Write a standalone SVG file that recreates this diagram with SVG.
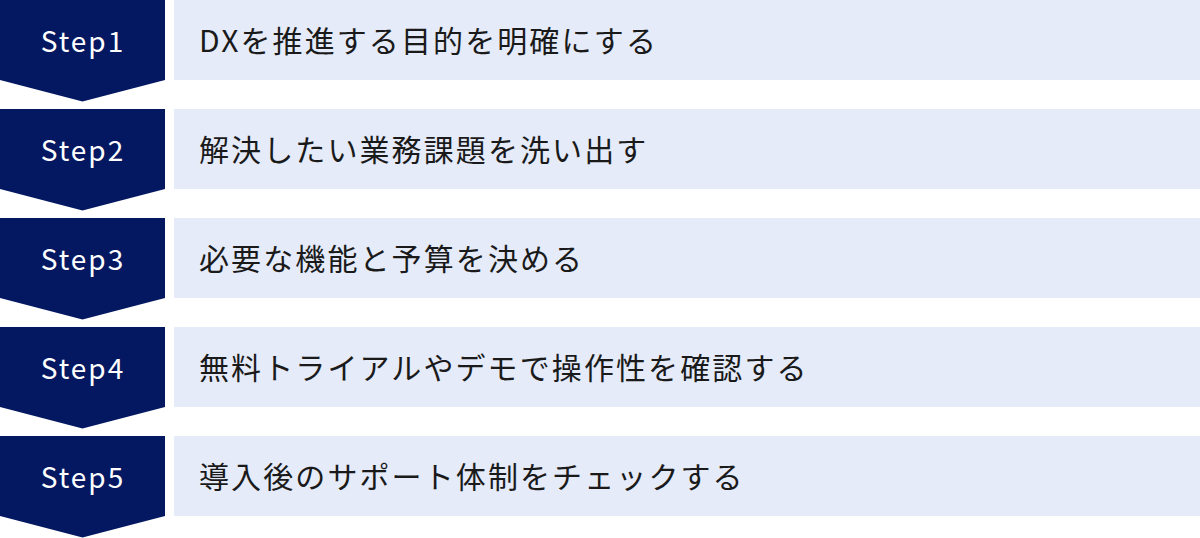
<svg xmlns="http://www.w3.org/2000/svg" width="1200" height="538" viewBox="0 0 1200 538">
  <style>
    .badge { fill: #041862; }
    .panel { fill: #E5EBF9; }
    .step { font-family: "Noto Sans CJK JP", "Noto Sans", sans-serif; font-size: 28px; font-weight: 400; fill: #ffffff; letter-spacing: 2px; text-anchor: middle; }
    .label { font-family: "Noto Sans CJK JP", "Noto Sans", sans-serif; font-size: 30px; fill: #1a1a1a; letter-spacing: 2.1px; }
  </style>
  <rect width="1200" height="538" fill="#ffffff"/>
  <g id="connectors"></g>
  <g id="step1">
    <path class="badge" d="M0,0 H165 V80 L82.5,101.5 L0,80 Z"/>
    <rect class="panel" x="174" y="0" width="1026" height="80"/>
    <text class="step" x="83" y="51.5">Step1</text>
    <text class="label" x="199" y="52">DXを推進する目的を明確にする</text>
  </g>
  <g id="step2">
    <path class="badge" d="M0,109 H165 V189 L82.5,210.5 L0,189 Z"/>
    <rect class="panel" x="174" y="109" width="1026" height="80"/>
    <text class="step" x="83" y="160.5">Step2</text>
    <text class="label" x="199" y="161">解決したい業務課題を洗い出す</text>
  </g>
  <g id="step3">
    <path class="badge" d="M0,218 H165 V298 L82.5,319.5 L0,298 Z"/>
    <rect class="panel" x="174" y="218" width="1026" height="80"/>
    <text class="step" x="83" y="269.5">Step3</text>
    <text class="label" x="199" y="270">必要な機能と予算を決める</text>
  </g>
  <g id="step4">
    <path class="badge" d="M0,327 H165 V407 L82.5,428.5 L0,407 Z"/>
    <rect class="panel" x="174" y="327" width="1026" height="80"/>
    <text class="step" x="83" y="378.5">Step4</text>
    <text class="label" x="199" y="379">無料トライアルやデモで操作性を確認する</text>
  </g>
  <g id="step5">
    <path class="badge" d="M0,436 H165 V516 L82.5,537.5 L0,516 Z"/>
    <rect class="panel" x="174" y="436" width="1026" height="80"/>
    <text class="step" x="83" y="487.5">Step5</text>
    <text class="label" x="199" y="488">導入後のサポート体制をチェックする</text>
  </g>
</svg>
